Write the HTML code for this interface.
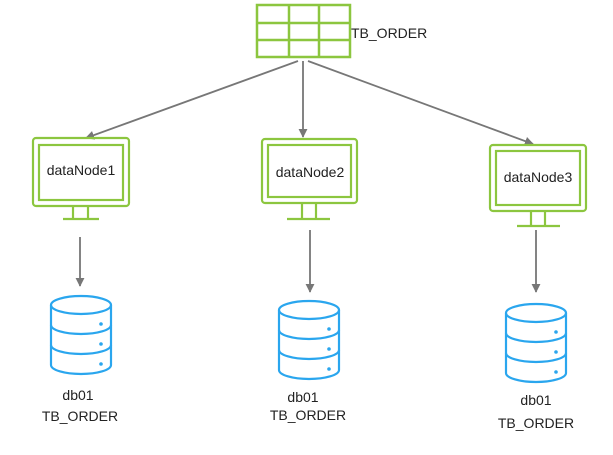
<!DOCTYPE html>
<html><head><meta charset="utf-8"><style>
html,body{margin:0;padding:0;background:#fff;}
svg{display:block;}
text{font-family:"Liberation Sans",sans-serif;fill:#222;}
</style></head><body>
<svg width="613" height="455" viewBox="0 0 613 455" xmlns="http://www.w3.org/2000/svg">
<defs>
<marker id="ah" viewBox="0 0 10 10" refX="9" refY="5" markerWidth="9" markerHeight="9" orient="auto" markerUnits="userSpaceOnUse">
<path d="M0,0 L10,5 L0,10 z" fill="#777"/></marker>
<g id="db" fill="none" stroke="#2aa6ee" stroke-width="2.2">
<path d="M0,10 A30,9 0 0 1 60,10 L60,70 A30,9 0 0 1 0,70 Z"/>
<path d="M0,10 A30,9 0 0 0 60,10"/>
<path d="M0,30 A30,9 0 0 0 60,30"/>
<path d="M0,50 A30,9 0 0 0 60,50"/>
<circle cx="50" cy="29" r="1.8" fill="#2aa6ee" stroke="none"/>
<circle cx="50" cy="49" r="1.8" fill="#2aa6ee" stroke="none"/>
<circle cx="50" cy="69" r="1.8" fill="#2aa6ee" stroke="none"/>
</g>
</defs>
<g fill="none" stroke="#8cc63f" stroke-width="2.5">
<rect x="257" y="5" width="93" height="52"/>
<line x1="289" y1="5" x2="289" y2="57"/><line x1="319" y1="5" x2="319" y2="57"/>
<line x1="257" y1="23" x2="350" y2="23"/><line x1="257" y1="40" x2="350" y2="40"/>
</g>
<text x="351" y="38" font-size="14">TB_ORDER</text>
<g stroke="#777" stroke-width="1.8" marker-end="url(#ah)">
<line x1="298" y1="61" x2="86" y2="138"/>
<line x1="303" y1="61" x2="303" y2="137"/>
<line x1="308" y1="61" x2="533" y2="144"/>
<line x1="80" y1="237" x2="80" y2="286"/>
<line x1="310" y1="230" x2="310" y2="292"/>
<line x1="536" y1="230" x2="536" y2="292"/>
</g>
<g fill="none" stroke="#8cc63f" stroke-width="2.2">
<rect x="33" y="138" width="96" height="68" rx="3"/><rect x="39" y="145" width="84" height="55"/>
<line x1="73" y1="206" x2="73" y2="219"/><line x1="88" y1="206" x2="88" y2="219"/><line x1="63" y1="219" x2="99" y2="219"/>
<rect x="262" y="139" width="95" height="64" rx="3"/><rect x="268" y="145" width="83" height="52"/>
<line x1="302" y1="203" x2="302" y2="219"/><line x1="316" y1="203" x2="316" y2="219"/><line x1="287" y1="219" x2="330" y2="219"/>
<rect x="490" y="145" width="96" height="66" rx="3"/><rect x="496" y="151" width="84" height="54"/>
<line x1="531" y1="211" x2="531" y2="226"/><line x1="545" y1="211" x2="545" y2="226"/><line x1="517" y1="226" x2="560" y2="226"/>
</g>
<text x="81" y="175" font-size="14" text-anchor="middle">dataNode1</text>
<text x="310" y="177" font-size="14" text-anchor="middle">dataNode2</text>
<text x="538" y="182" font-size="14" text-anchor="middle">dataNode3</text>
<use href="#db" x="51" y="295"/>
<use href="#db" x="279" y="300"/>
<use href="#db" x="506" y="303"/>
<g font-size="14" text-anchor="middle">
<text x="78" y="400">db01</text><text x="80" y="421">TB_ORDER</text>
<text x="303" y="402">db01</text><text x="308" y="420">TB_ORDER</text>
<text x="536" y="405">db01</text><text x="536" y="428">TB_ORDER</text>
</g>
</svg>
</body></html>
